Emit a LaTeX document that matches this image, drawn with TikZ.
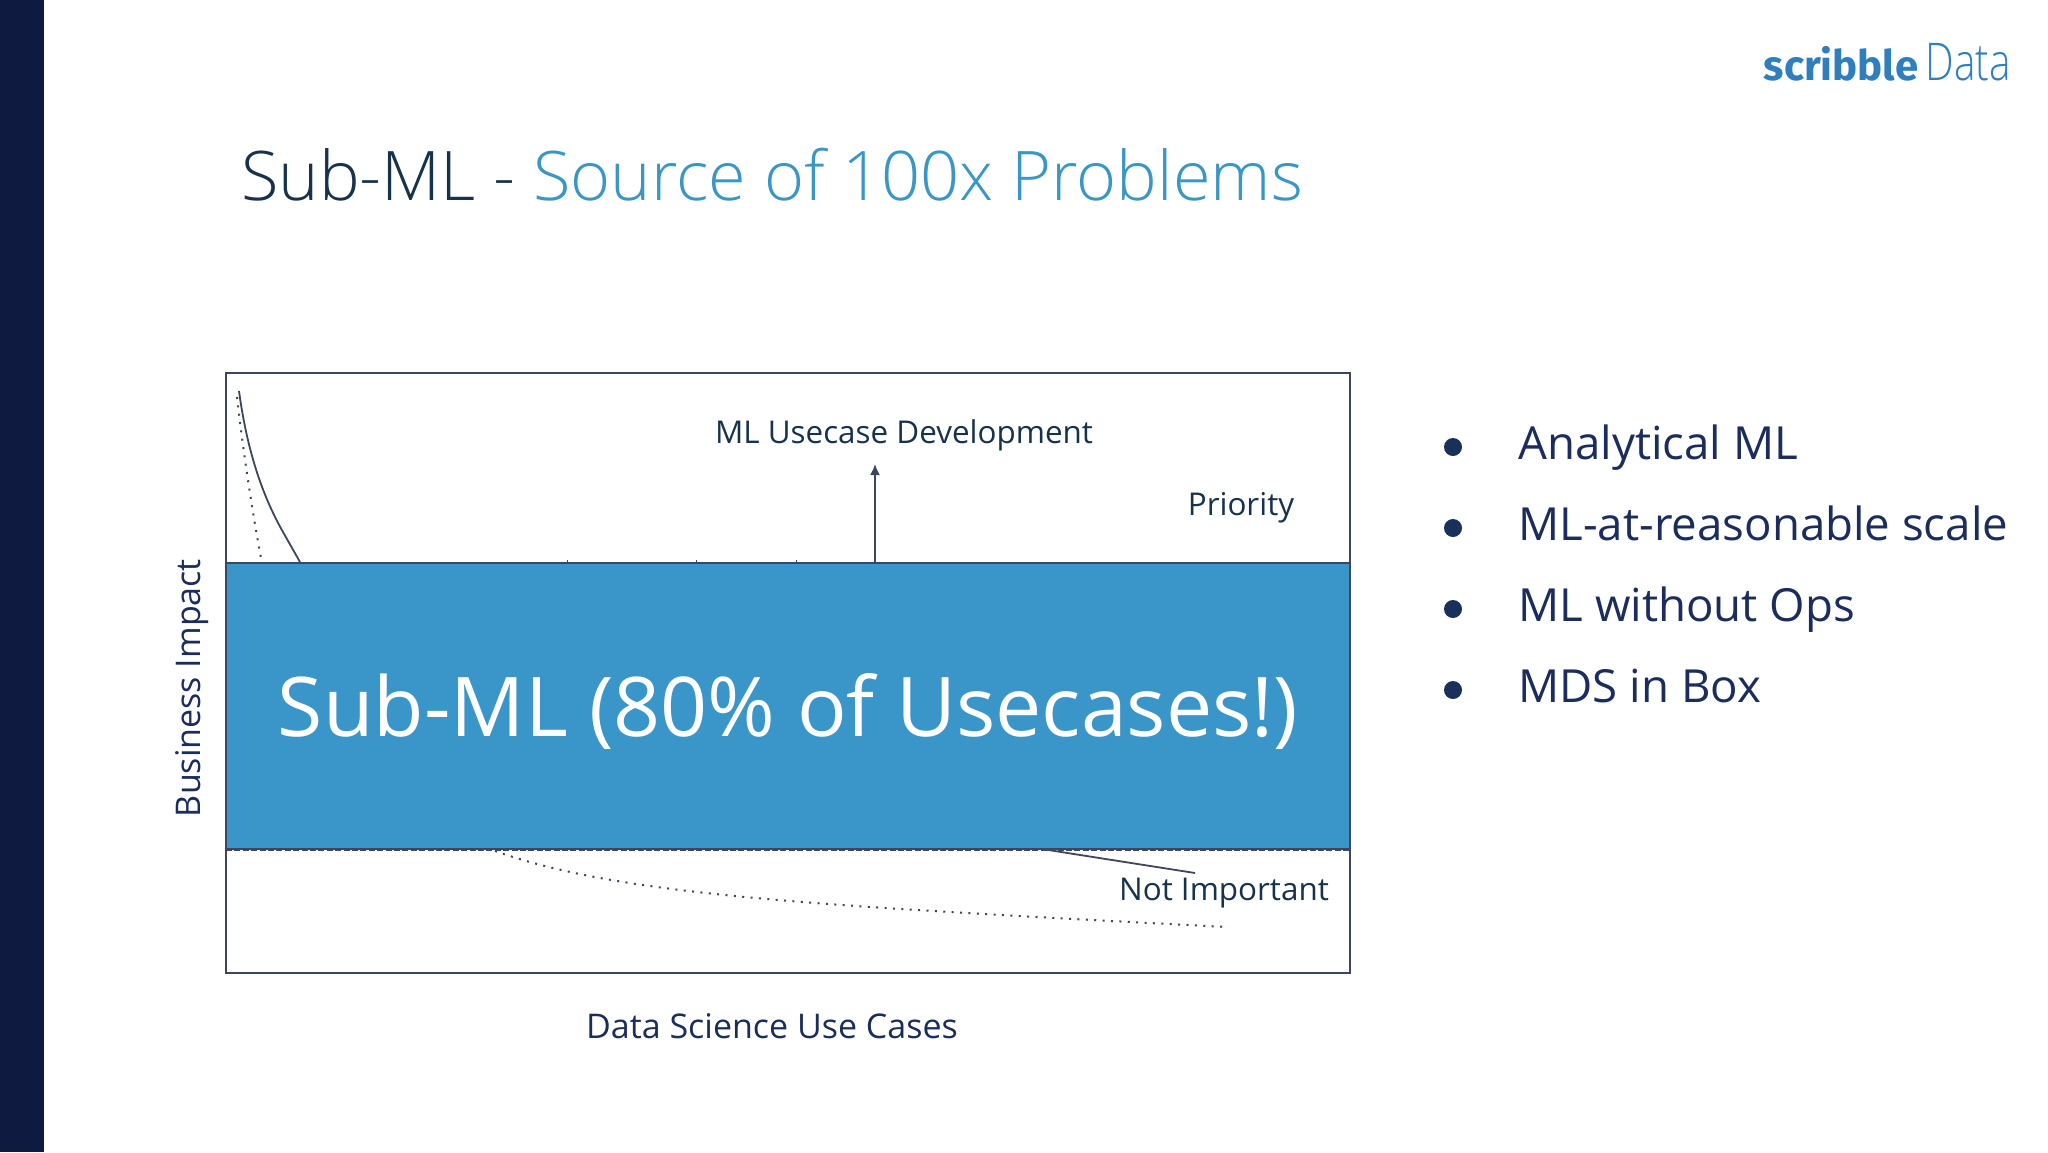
\documentclass[tikz,border=0pt]{standalone}
\usepackage{fontspec}
\setmainfont{Open Sans}
\newfontfamily\lightfont{Open Sans Light}
\newfontfamily\logofont{Fira Sans}
\newfontfamily\logolight[FakeStretch=0.78]{Open Sans Light}
\usepackage{xcolor}
\usetikzlibrary{arrows.meta}
\definecolor{sidebar}{HTML}{0F1A40}
\definecolor{titledark}{HTML}{17324D}
\definecolor{titleblue}{HTML}{3A96C4}
\definecolor{bandblue}{HTML}{3A96C8}
\definecolor{navy}{HTML}{1B2D5C}
\definecolor{dotnavy}{HTML}{18305A}
\definecolor{boxline}{HTML}{3D4560}
\definecolor{logoblue}{HTML}{2F7FBF}
\tikzstyle{label} = [anchor=base, text=titledark, inner sep=0pt, font=\fontsize{15.7}{18}\selectfont]
\tikzstyle{axis} = [anchor=base, text=navy, inner sep=0pt, font=\fontsize{17}{20}\selectfont]
\tikzstyle{curve} = [draw=boxline, line width=0.9pt]
\tikzstyle{dots} = [draw=boxline, line width=1pt, dash pattern=on 1pt off 3.2pt]
\tikzstyle{arrow} = [-{Latex[length=5.5pt,width=5pt]}, draw=boxline, line width=0.9pt]
\newcommand{\drawbullet}[3]{\node[circle, fill=dotnavy, minimum size=9pt, inner sep=0pt] (dot#1) at (1453,#2) {};
	\node[anchor=base west, text=navy, inner sep=0pt, font=\fontsize{22.8}{27}\selectfont] (item#1) at (1518,#2+12.5) {#3}}

\begin{document}
\begin{tikzpicture}[x=0.5pt, y=-0.5pt]
	\useasboundingbox (0,0) rectangle (2048,1152);
	\fill[white] (0,0) rectangle (2048,1152);
	\fill[sidebar] (0,0) rectangle (44,1152);
	
	\node (title) [anchor=west, inner sep=0pt, font=\fontsize{34.2}{40}\lightfont] at (241,175) {\textcolor{titledark}{Sub-ML -} \textcolor{titleblue}{Source of 100x Problems}};
	\node (logo) [anchor=base east, inner sep=0pt, text=logoblue, font=\fontsize{21}{25}\logofont] at (2011,80) {\textbf{scribble}\,{\fontsize{26}{25}\logolight Data}};
	
	\node (plot) [draw=boxline, line width=1pt, minimum width=562pt, minimum height=300pt, inner sep=0pt] at (788,673) {};
	\node (band) [draw=boxline, fill=bandblue, line width=0.9pt, minimum width=562pt, minimum height=143pt, inner sep=0pt] at (788,706) {};
	\node (bandtext) [anchor=base, inner sep=0pt, text=white, font=\fontsize{41.2}{48}\selectfont] at (788,736) {Sub-ML (80\% of Usecases!)};
	
	% curves above the band
	\coordinate (solidstart) at (239,391);
	\coordinate (solidend) at (300,562);
	\coordinate (dotstart) at (237,397);
	\coordinate (dotend) at (261,558);
	\draw[curve] (solidstart) .. controls (247,450) and (262,495) .. (283,532) -- (solidend);
	\draw[dots] (dotstart) .. controls (243,450) and (252,510) .. (dotend);
	
	\coordinate (tickone) at (567,560);
	\coordinate (ticktwo) at (696,560);
	\coordinate (tickthree) at (796,560);
	\draw[curve, line width=0.4pt] (tickone) -- ++(0,3);
	\draw[curve, line width=0.4pt] (ticktwo) -- ++(0,3);
	\draw[curve, line width=0.4pt] (tickthree) -- ++(0,3);
	
	\coordinate (arrowbase) at (875,562);
	\coordinate (arrowtip) at (875,464);
	\draw[arrow] (arrowbase) -- (arrowtip);
	\node (usecase) [label] at (904,443) {ML Usecase Development};
	\node (priority) [label] at (1241,515) {Priority};
	
	% below the band
	\coordinate (dashstart) at (226,850);
	\coordinate (dashend) at (1350,850);
	\draw[draw=boxline, line width=0.9pt, dash pattern=on 3pt off 1.2pt] (dashstart) -- (dashend);
	\coordinate (lowstart) at (1042,849);
	\coordinate (lowend) at (1195,873);
	\draw[curve] (lowstart) -- (lowend);
	\coordinate (lowdotstart) at (495,851);
	\coordinate (lowdotend) at (1227,927);
	\draw[dots] (lowdotstart) .. controls (620,895) and (800,905) .. (lowdotend);
	\node (notimportant) [label] at (1224,900) {Not Important};
	
	\node (yaxis) [axis, rotate=90] at (200,688) {Business Impact};
	\node (xaxis) [axis] at (772,1038) {Data Science Use Cases};
	
	\drawbullet{a}{447}{Analytical ML};
	\drawbullet{b}{528}{ML-at-reasonable scale};
	\drawbullet{c}{609}{ML without Ops};
	\drawbullet{d}{690}{MDS in Box};
\end{tikzpicture}
\end{document}
